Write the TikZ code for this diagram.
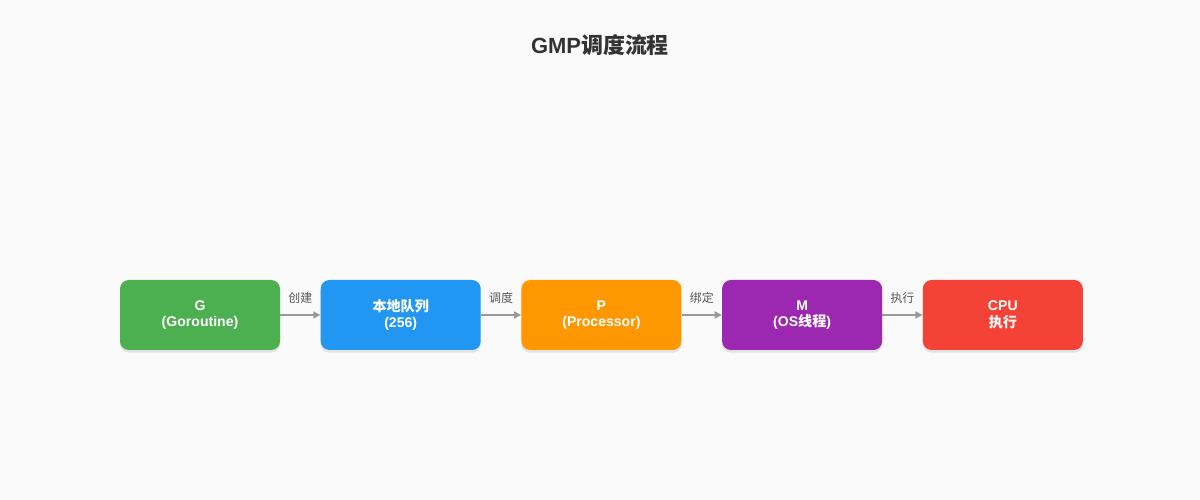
\documentclass[tikz,border=0pt]{standalone}
\usepackage{fontspec}
\setmainfont{Liberation Sans}
\newfontfamily\cjk{Noto Sans CJK SC}
\usetikzlibrary{positioning,shadows,arrows.meta}
\definecolor{bgc}{HTML}{FAFAFA}
\definecolor{gG}{HTML}{4CAF50}
\definecolor{gL}{HTML}{2196F3}
\definecolor{gP}{HTML}{FF9800}
\definecolor{gM}{HTML}{9C27B0}
\definecolor{gC}{HTML}{F44336}
\tikzset{
  box/.style={rounded corners=5pt,minimum width=3.2cm,minimum height=1.4cm,
    text=white,font=\bfseries\fontsize{8}{9.5}\selectfont,align=center,
    draw=none,drop shadow={opacity=0.18,shadow xshift=0pt,shadow yshift=-1.5pt}},
  flow/.style={draw=gray!80,line width=0.8pt,-{Triangle[length=4pt,width=4pt]}},
  lbl/.style={midway,above=3pt,font=\fontsize{6.8}{8}\selectfont\cjk,text=black!65}
}
\begin{document}
\begin{tikzpicture}
  \fill[bgc] (0,0) rectangle (24,10);
  \useasboundingbox (0,0) rectangle (24,10);
  \node[font=\bfseries\fontsize{12.5}{14}\selectfont,text=black!80] (title) at (12,9.1) {GMP{\cjk 调度流程}};
  \node[box,fill=gG] (g) at (4,3.7) {G\\(Goroutine)};
  \node[box,fill=gL,right=0.8cm of g] (lq) {{\cjk 本地队列}\\(256)};
  \node[box,fill=gP,right=0.8cm of lq] (p) {P\\(Processor)};
  \node[box,fill=gM,right=0.8cm of p] (m) {M\\(OS{\cjk 线程})};
  \node[box,fill=gC,right=0.8cm of m] (cpu) {CPU\\{\cjk 执行}};
  \draw[flow] (g) -- node[lbl] {创建} (lq);
  \draw[flow] (lq) -- node[lbl] {调度} (p);
  \draw[flow] (p) -- node[lbl] {绑定} (m);
  \draw[flow] (m) -- node[lbl] {执行} (cpu);
\end{tikzpicture}
\end{document}
